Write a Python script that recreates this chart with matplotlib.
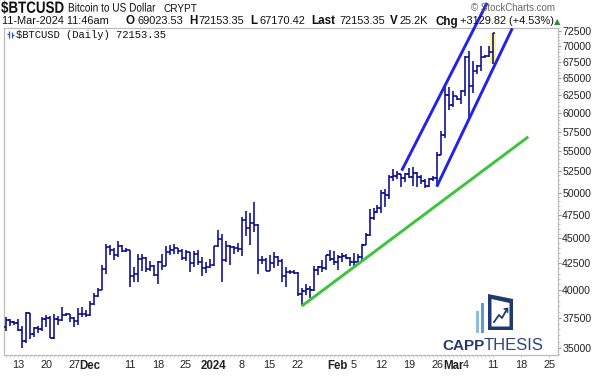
import pandas as pd
import matplotlib
matplotlib.use('Agg')
import matplotlib.pyplot as plt
import matplotlib.dates as mdates
from matplotlib.font_manager import FontProperties
from matplotlib.patches import Rectangle, Polygon, PathPatch
from matplotlib.textpath import TextPath
from matplotlib.transforms import Affine2D
from matplotlib.ticker import FixedLocator, NullFormatter

plt.rcParams['font.family'] = ['Liberation Sans', 'DejaVu Sans']

# daily OHLC bars 10-Nov-2023 .. 11-Mar-2024
dates = pd.date_range('2023-11-10', '2024-03-11', freq='D')
opens = [36690, 37310, 37130, 37070, 36490, 35540, 37880, 36160, 36590, 36570, 37370, 37450, 35810, 37420,
         37290, 37720, 37790, 37480, 37250, 37830, 37860,
         37720, 38690, 39460, 39980, 41980, 44080, 43770, 43290, 44170, 43720, 43790, 41240, 41450, 42890,
         43020, 41930, 42240, 41360, 42650, 42270, 43650, 43860, 43990, 43740, 43020, 43610, 42520, 43440,
         42580, 42070, 42140,
         42280, 44180, 44950, 42850, 44180, 44160, 43970, 43930, 46970, 46120, 46630, 46370, 42850, 42840,
         41730, 42510, 43150, 42740, 41260, 41620, 41660, 41580, 39560, 39880, 40080, 39930, 41800, 42120,
         42030, 43300, 42940,
         42580, 43080, 43200, 43010, 42580, 42660, 43090, 44340, 45300, 47150, 47770, 48290, 49960, 49700,
         51800, 51930, 52160, 51660, 52120, 51780, 52280, 51840, 51300, 50740, 51570, 51730, 54520, 57090,
         62500,
         61200, 62440, 62030, 63170, 68330, 63800, 66110, 66930, 68300, 68500, 69023.53]
highs = [37520, 37410, 37230, 37400, 36760, 37970, 37930, 36710, 36830, 37520, 37740, 37630, 37850, 37640,
         38420, 37890, 37820, 37580, 38380, 38420, 38140,
         38960, 39680, 40180, 42370, 44400, 44270, 44040, 44700, 44360, 44030, 43790, 42100, 43430, 43390,
         43080, 42690, 42360, 42740, 43440, 44240, 44280, 44390, 44000, 43930, 43800, 43630, 43680, 43800,
         43120, 42600, 42880,
         44190, 45900, 45500, 44730, 44340, 44230, 44480, 47240, 47890, 47650, 48970, 46500, 43250, 43050,
         43330, 43570, 43200, 42930, 42150, 41830, 41880, 41670, 40130, 40540, 40300, 42200, 42200, 42800,
         43310, 43840, 43750,
         43290, 43480, 43380, 43120, 43530, 43400, 44370, 45580, 48150, 48200, 48540, 50280, 50350, 52000,
         52820, 52550, 52190, 52350, 52950, 52980, 52370, 52000, 51540, 51700, 51950, 54900, 57550, 63900,
         63680,
         63150, 62450, 63230, 68500, 69170, 67600, 67000, 69990, 68620, 70000, 72153.35]
lows = [36340, 36750, 36860, 36340, 34950, 35370, 35680, 35870, 36170, 36390, 36720, 35750, 35670, 36900,
        37250, 37610, 37170, 36740, 36900, 37600, 37530,
        37650, 38650, 39280, 39970, 41420, 43340, 42820, 43080, 43590, 43590, 40230, 40680, 40670, 41770,
        41680, 41740, 41270, 40550, 41850, 42230, 43330, 43450, 43380, 42820, 42750, 41650, 42110, 42320,
        41300, 41540, 41990,
        42200, 44150, 40750, 42630, 42290, 43400, 43620, 43220, 45270, 44330, 45650, 41500, 42450, 41720,
        41720, 42050, 42210, 40680, 40280, 41430, 41500, 39450, 38500, 39500, 39260, 39830, 41400, 41660,
        41820, 42690, 42300,
        41880, 42600, 42880, 42260, 42260, 42580, 42790, 44330, 45250, 46900, 47720, 47710, 48400, 49300,
        51330, 51580, 50670, 51170, 51710, 50790, 50660, 50950, 50530, 50580, 51300, 50900, 54450, 56700,
        60400,
        60800, 61800, 61320, 62380, 59220, 62880, 65600, 66180, 68100, 68240, 67170.42]
closes = [37310, 37130, 37070, 36490, 35540, 37880, 36160, 36590, 36570, 37370, 37450, 35810, 37420, 37290,
          37720, 37790, 37480, 37250, 37830, 37860, 37720,
          38690, 39460, 39980, 41980, 44080, 43770, 43290, 44170, 43720, 43790, 41240, 41450, 42890, 43020,
          41930, 42240, 41360, 42650, 42270, 43650, 43860, 43990, 43740, 43020, 43610, 42520, 43440, 42580,
          42070, 42140, 42280,
          44180, 44950, 42850, 44180, 44160, 43970, 43930, 46970, 46120, 46630, 46370, 42850, 42840, 41730,
          42510, 43150, 42740, 41260, 41620, 41660, 41580, 39560, 39880, 40080, 39930, 41800, 42120, 42030,
          43300, 42940, 42580,
          43080, 43200, 43010, 42580, 42660, 43090, 44340, 45300, 47150, 47770, 48290, 49960, 49700, 51800,
          51930, 52160, 51660, 52120, 51780, 52280, 51840, 51300, 50740, 51570, 51730, 54520, 57090, 62500,
          61200,
          62440, 62030, 63170, 68330, 63800, 66110, 66930, 68300, 68500, 69020, 72153.35]

# hand-drawn trendlines (start / end)
green_dates = ['2024-01-23 00:00', '2024-03-19 19:00']
green_vals = [38510, 56830]
upper_dates = ['2024-02-17 01:30', '2024-03-09 11:00']
upper_vals = [52580, 77310]
lower_dates = ['2024-02-25 20:00', '2024-03-15 19:00']
lower_vals = [50670, 72930]

# axis ticks
y_ticks = [35000, 37500, 40000, 42500, 45000, 47500, 50000, 52500, 55000, 57500,
           60000, 62500, 65000, 67500, 70000, 72500]
x_tick_dates = ['2023-11-13', '2023-11-20', '2023-11-27', '2023-12-01', '2023-12-11', '2023-12-18',
                '2023-12-25', '2024-01-01', '2024-01-08', '2024-01-15', '2024-01-22', '2024-02-01',
                '2024-02-05', '2024-02-12', '2024-02-19', '2024-02-26', '2024-03-01', '2024-03-04',
                '2024-03-11', '2024-03-18', '2024-03-25']
x_tick_labels = ['13', '20', '27', 'Dec', '11', '18', '25', '2024', '8', '15', '22', 'Feb',
                 '5', '12', '19', '26', 'Mar', '4', '11', '18', '25']
bold_labels = ['Dec', '2024', 'Feb', 'Mar']

BAR = '#0a0a8f'
W, H = 595, 376

fig = plt.figure(figsize=(W / 100, H / 100), dpi=100)
ax = fig.add_axes([4 / W, (H - 355) / H, 554 / W, (355 - 27.5) / H])

x = mdates.date2num(dates)
tk = 0.55
ax.add_patch(Rectangle((x[-1] - 0.75, lows[-1]), 1.5, highs[-1] - lows[-1],
                       facecolor='#fbf590', edgecolor='none', zorder=1))
ax.vlines(x, lows, highs, color=BAR, lw=1.15, zorder=3)
ax.hlines(opens, x - tk, x, color=BAR, lw=1.15, zorder=3)
ax.hlines(closes, x, x + tk, color=BAR, lw=1.15, zorder=3)

ax.plot(pd.to_datetime(green_dates), green_vals, color='#3cc43c', lw=2.1, zorder=4,
        solid_capstyle='butt')
ax.plot(pd.to_datetime(upper_dates), upper_vals, color='#2222e8', lw=2.1, zorder=4,
        clip_on=False, solid_capstyle='butt')
ax.plot(pd.to_datetime(lower_dates), lower_vals, color='#2222e8', lw=2.1, zorder=4,
        solid_capstyle='butt')

ax.set_yscale('log')
ax.set_ylim(34417, 73060)
d0 = mdates.date2num(pd.Timestamp('2023-11-13'))
ax.set_xlim(d0 - 3.61, d0 + 135.24)

ax.yaxis.tick_right()
ax.yaxis.set_major_locator(FixedLocator(y_ticks))
ax.yaxis.set_minor_locator(FixedLocator(list(range(34500, 73001, 500))))
ax.yaxis.set_minor_formatter(NullFormatter())
ax.set_yticklabels([str(v) for v in y_ticks])
ax.tick_params(axis='y', which='major', length=2, width=0.8, color='#999999', pad=1,
               labelsize=7.6, labelcolor='#222222')
ax.tick_params(axis='y', which='minor', length=1.2, width=0.6, color='#bbbbbb')

ax.set_xticks(mdates.date2num(pd.to_datetime(x_tick_dates)))
ax.set_xticklabels(x_tick_labels)
ax.xaxis.set_minor_locator(FixedLocator(list(x)))
ax.tick_params(axis='x', which='major', length=1.5, width=0.6, color='#bbbbbb', pad=2,
               labelsize=7.8, labelcolor='#222222')
ax.tick_params(axis='x', which='minor', length=1.2, width=0.6, color='#bbbbbb')
for lab in ax.get_xticklabels():
    if lab.get_text() in bold_labels:
        lab.set_fontweight('bold')
        lab.set_fontsize(8.3)

for s in ax.spines.values():
    s.set_color('#bdbdbd')
    s.set_linewidth(0.9)

# overlay in pixel coordinates for header, legend and logo
ov = fig.add_axes([0, 0, 1, 1], zorder=5)
ov.set_xlim(0, W)
ov.set_ylim(H, 0)
ov.axis('off')
ov.patch.set_alpha(0)


def narrow_text(px, baseline, s, size, weight='normal', squeeze=0.82, color='#111111'):
    # condensed header font: glyph outlines squeezed horizontally
    tp = TextPath((0, 0), s, size=size, prop=FontProperties(family='Liberation Sans', weight=weight))
    tr = Affine2D().scale(squeeze, -1).translate(px, baseline) + ov.transData
    ov.add_patch(PathPatch(tp, transform=tr, facecolor=color, edgecolor='none'))


narrow_text(1, 12.8, '$BTCUSD', 16.3, weight='bold')
narrow_text(68, 11.6, 'Bitcoin to US Dollar', 12.3)
ov.text(164, 8.5, 'CRYPT', fontsize=7.2, va='center', ha='left', color='#111111')
ov.text(471, 8, '\u00a9 StockCharts.com', fontsize=7, va='center', ha='left', color='#666666')

line2 = [(2, '11-Mar-2024 11:46am', False), (126, 'O', True), (137.5, '69023.53', False),
         (189, 'H', True), (198.5, '72153.35', False), (250, 'L', True), (259.5, '67170.42', False),
         (311, 'Last', True), (339.5, '72153.35', False), (390, 'V', True), (400, '25.2K', False),
         (435, 'Chg', True), (460.5, '+3129.82 (+4.53%)', False)]
for px, s, b in line2:
    ov.text(px, 21.5, s, fontsize=8.4 if b else 7.9, fontweight='bold' if b else 'normal',
            va='center', ha='left', color='#111111')
ov.text(557, 22, '\u25b2', fontsize=6, va='center', ha='center', color='#2e8b2e',
        family=['DejaVu Sans'])

# legend line inside the plot
ov.vlines([8.5, 12], [31, 32], [38, 37.5], color='#3050c0', lw=0.9)
ov.hlines([34, 35], [7, 12], [8.5, 13.5], color='#3050c0', lw=0.9)
ov.text(16, 35, '$BTCUSD (Daily) 72153.35', family=['Liberation Mono', 'DejaVu Sans Mono'],
        fontsize=7.6, va='center', ha='left', color='#111111')

# CAPP THESIS logo
ov.add_patch(Rectangle((476, 311), 3, 22, facecolor='#8fbbe6', edgecolor='none'))
ov.add_patch(Rectangle((480.5, 303), 3.2, 30, facecolor='#5b9bd5', edgecolor='none'))
ov.add_patch(Polygon([(488, 294), (513, 299), (513, 330), (488, 330)], closed=True,
                     facecolor='#1f3a6e', edgecolor='none'))
ov.add_patch(Polygon([(491.5, 299), (509.5, 303), (509.5, 326.5), (491.5, 326.5)], closed=True,
                     facecolor='white', edgecolor='none'))
ov.plot([494, 499, 502, 507], [322, 315, 318, 309], color='#1f3a6e', lw=1.3)
ov.plot([504.5, 507.5, 507.5], [309, 308.5, 312], color='#1f3a6e', lw=1.2)
ov.text(442, 345.5, 'CAPP', fontsize=11, fontweight='bold', va='center', ha='left', color='#26396a')
ov.text(484, 345.5, 'THESIS', fontsize=12, va='center', ha='left', color='#2d4680')

fig.savefig('out.png', dpi=100)
